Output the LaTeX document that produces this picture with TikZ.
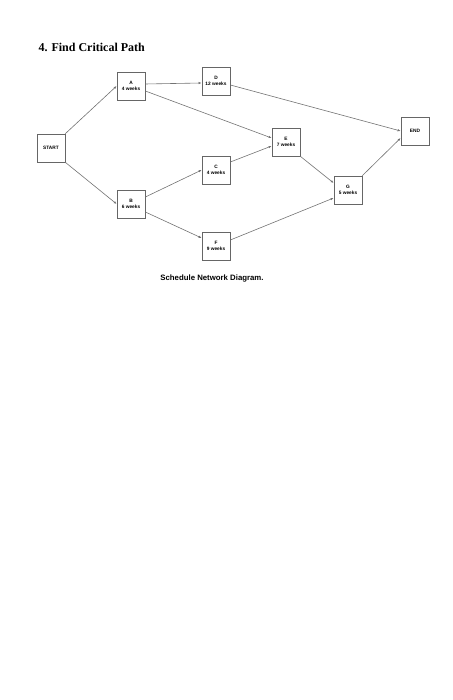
\documentclass[tikz,border=0pt]{standalone}
\usepackage{fontspec}
\setmainfont{Liberation Serif}
\setsansfont{Liberation Sans}
\usetikzlibrary{arrows.meta}
\begin{document}
\begin{tikzpicture}[x=1pt, y=-1pt]
	\tikzstyle{Task} = [draw=black!60, fill=white, line width=0.7pt, minimum width=28pt, minimum height=28pt, inner sep=0pt, align=center, font=\sffamily\bfseries\fontsize{4.8}{6.5}\selectfont]
	\tikzstyle{Link} = [draw=black!55, line width=0.6pt, -{Latex[length=3pt,width=2.4pt]}]
	
	\useasboundingbox (0,0) rectangle (452,700);
	
	\node[name=title, anchor=west, font=\bfseries\fontsize{12}{14}\selectfont] at (35,47) {4. Find Critical Path};
	
	\node[name=start, Task] at (51,148) {START};
	\node[name=a, Task] at (131,86) {A\\4 weeks};
	\node[name=b, Task] at (131,204) {B\\6 weeks};
	\node[name=d, Task] at (216,81) {D\\12 weeks};
	\node[name=c, Task] at (216,170) {C\\4 weeks};
	\node[name=f, Task] at (216,246) {F\\9 weeks};
	\node[name=e, Task] at (286,142) {E\\7 weeks};
	\node[name=g, Task] at (348,190) {G\\5 weeks};
	\node[name=end, Task] at (415,131) {END};
	
	\node[name=caption, font=\sffamily\bfseries\fontsize{7.8}{9}\selectfont] at (212,278) {Schedule Network Diagram.};
	
	\draw[Link] (start.north east) -- (a.west);
	\draw[Link] (start.south east) -- (b.west);
	\draw[Link] ([yshift=2pt]a.east) -- ([yshift=-2pt]d.west);
	\draw[Link] ([yshift=-5pt]a.east) -- ([yshift=4pt]e.west);
	\draw[Link] ([yshift=-4pt]d.east) -- (end.west);
	\draw[Link] ([yshift=7pt]b.east) -- (c.west);
	\draw[Link] ([yshift=-8pt]b.east) -- ([yshift=8pt]f.west);
	\draw[Link] ([yshift=8pt]c.east) -- ([yshift=-4pt]e.west);
	\draw[Link] (e.south east) -- ([yshift=7pt]g.west);
	\draw[Link] ([yshift=6pt]f.east) -- ([yshift=-8pt]g.west);
	\draw[Link] (g.north east) -- ([yshift=-7pt]end.west);
\end{tikzpicture}
\end{document}
